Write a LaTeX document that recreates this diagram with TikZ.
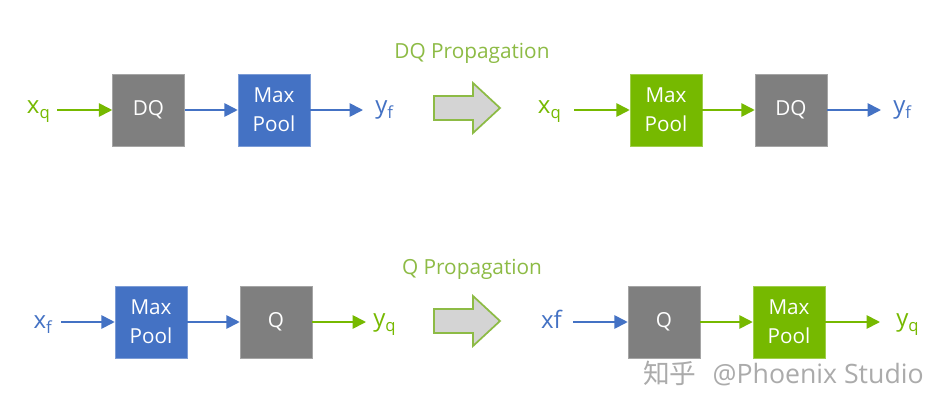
\documentclass[tikz,border=0pt]{standalone}
\usepackage{fontspec}
\setmainfont{Open Sans}
\newfontfamily\cjk{Noto Sans CJK SC}
\usetikzlibrary{arrows.meta}
\definecolor{grn}{HTML}{76B900}
\definecolor{blu}{HTML}{4472C4}
\definecolor{gry}{HTML}{7F7F7F}
\definecolor{ttl}{HTML}{8DBB45}
\tikzset{
  box/.style={minimum width=54pt,minimum height=54pt,inner sep=0pt,text=white,font=\fontsize{15.5}{21.8}\selectfont,align=center,draw=#1!70!white,line width=.4pt,fill=#1},
  lab/.style={inner sep=0pt,text=#1,font=\fontsize{18}{20}\selectfont},
  link/.style={draw=#1,line width=1.3pt,-{Triangle[length=10pt,width=10pt]}},
  bigarrow/.style={draw=ttl,fill=black!17,line width=1.3pt,line join=miter},
  ttlabel/.style={text=ttl,inner sep=0pt,font=\fontsize{15.6}{18}\selectfont},
}
\newcommand{\sub}[1]{\raisebox{-.22em}{\fontsize{12.5}{14}\selectfont #1}}
\begin{document}
\begin{tikzpicture}[x=.75pt,y=-.75pt]
\useasboundingbox (0,0) rectangle (950,411);
\fill[white] (0,0) rectangle (950,411);
% top left
\node[box=gry] (a1) at (148.5,110) {DQ};
\node[box=blu] (a2) at (274,110) {Max\\Pool};
\node[lab=grn,anchor=base east] (a0) at (50,113) {x\sub{q}};
\coordinate (a0e) at (57,110);
\node[lab=blu,anchor=base west] (a3) at (375,113) {y\sub{f}};
\coordinate (a3w) at (363,110);
\draw[link=grn] (a0e) -- (a1);
\draw[link=blu] (a1) -- (a2);
\draw[link=blu] (a2) -- (a3w);
% top right
\node[box=grn] (b1) at (666,110) {Max\\Pool};
\node[box=gry] (b2) at (791,110) {DQ};
\node[lab=grn,anchor=base east] (b0) at (561,113) {x\sub{q}};
\coordinate (b0e) at (574,110);
\node[lab=blu,anchor=base west] (b3) at (893,113) {y\sub{f}};
\coordinate (b3w) at (881,110);
\draw[link=grn] (b0e) -- (b1);
\draw[link=grn] (b1) -- (b2);
\draw[link=blu] (b2) -- (b3w);
% bottom left
\node[box=blu] (c1) at (151,322) {Max\\Pool};
\node[box=gry] (c2) at (276,322) {Q};
\node[lab=blu,anchor=base east] (c0) at (52,328) {x\sub{f}};
\coordinate (c0e) at (61,322);
\node[lab=grn,anchor=base west] (c3) at (373,326) {y\sub{q}};
\coordinate (c3w) at (366,322);
\draw[link=blu] (c0e) -- (c1);
\draw[link=blu] (c1) -- (c2);
\draw[link=grn] (c2) -- (c3w);
% bottom right
\node[box=gry] (d1) at (664,322) {Q};
\node[box=grn] (d2) at (789,322) {Max\\Pool};
\node[lab=blu,anchor=base east] (d0) at (562,328) {xf};
\coordinate (d0e) at (573,322);
\node[lab=grn,anchor=base west] (d3) at (896,326) {y\sub{q}};
\coordinate (d3w) at (880,322);
\draw[link=blu] (d0e) -- (d1);
\draw[link=grn] (d1) -- (d2);
\draw[link=grn] (d2) -- (d3w);
% big arrows
\draw[bigarrow] (434,96) -- (473,96) -- (473,83) -- (500,108) -- (473,133) -- (473,120) -- (434,120) -- cycle;
\draw[bigarrow] (434,309) -- (473,309) -- (473,296) -- (500,321) -- (473,346) -- (473,333) -- (434,333) -- cycle;
% titles
\node[ttlabel] (t1) at (472,53) {DQ Propagation};
\node[ttlabel] (t2) at (472,269) {Q Propagation};
% watermark
\node[inner sep=0pt,anchor=base west,text=black!33,font=\fontsize{20}{22}\selectfont] (w) at (643,383) {{\cjk 知乎}\hspace{.6em}@Phoenix Studio};
\end{tikzpicture}
\end{document}
